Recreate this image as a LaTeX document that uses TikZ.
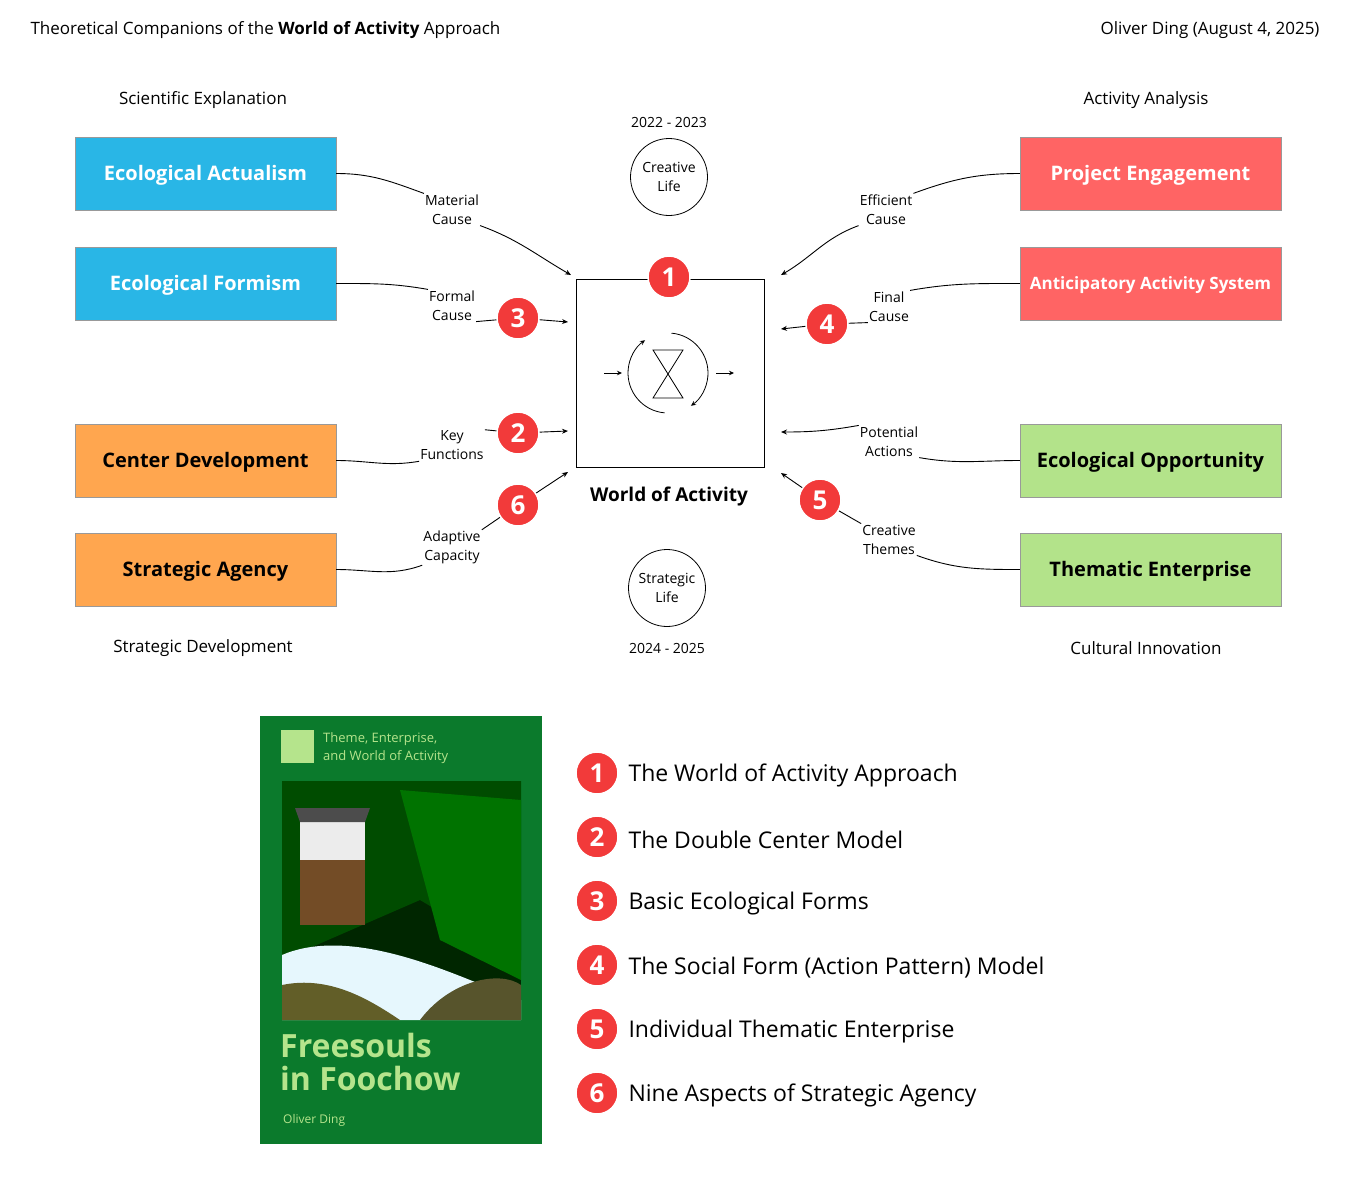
\documentclass[tikz,border=0pt]{standalone}
\usepackage{fontspec}
\setmainfont{Open Sans}
\usetikzlibrary{arrows.meta,calc}
\definecolor{cblue}{HTML}{29B6E6}
\definecolor{cred}{HTML}{FF6464}
\definecolor{corange}{HTML}{FFA64F}
\definecolor{cgreen}{HTML}{B3E38A}
\definecolor{badge}{HTML}{F23A3A}
\definecolor{book}{HTML}{0B7A2C}
\definecolor{booklight}{HTML}{B5E48C}
\begin{document}
\begin{tikzpicture}[x=1pt,y=-1pt,
  box/.style={draw=black!40,minimum width=261pt,minimum height=73pt,inner sep=0pt,
    font=\fontsize{20}{24}\selectfont\bfseries,text depth=1pt},
  lab/.style={font=\fontsize{14}{19}\selectfont,align=center,inner sep=1pt,yshift=-1.5pt},
  head/.style={font=\fontsize{17}{20}\selectfont,yshift=-2pt},
  num/.style={circle,fill=badge,draw=white,line width=1.5pt,minimum size=42pt,inner sep=0pt,
    text=white,font=\fontsize{26}{28}\selectfont\bfseries},
  life/.style={circle,draw,thick,minimum size=77pt,inner sep=0pt,align=center,
    font=\fontsize{14}{19}\selectfont},
  con/.style={black,line width=0.9pt},
  arr/.style={con,-{Stealth[length=6pt,width=5pt]}},
  tip/.style={thick,-{Stealth[length=5pt,width=4.5pt]}},
  item/.style={anchor=west,font=\fontsize{23}{26}\selectfont,yshift=-2.5pt}]
\useasboundingbox[fill=white] (0,0) rectangle (1358,1200);

% header
\node[head,anchor=west] (title) at (27,28) {Theoretical Companions of the \textbf{World of Activity} Approach};
\node[head,anchor=east] (auth) at (1323,28) {Oliver Ding (August 4, 2025)};
\node[head] (h1) at (203,98) {Scientific Explanation};
\node[head] (h2) at (1146,98) {Activity Analysis};
\node[head] (h3) at (203,646) {Strategic Development};
\node[head] (h4) at (1146,646) {Cultural Innovation};
\node[head,font=\fontsize{14}{16}\selectfont] (y1) at (669,120) {2022 - 2023};
\node[head,font=\fontsize{14}{16}\selectfont] (y2) at (667,646) {2024 - 2025};

% boxes
\node[box,fill=cblue,text=white] (ea) at (205.5,173.5) {Ecological Actualism};
\node[box,fill=cblue,text=white] (ef) at (205.5,283.5) {Ecological Formism};
\node[box,fill=corange] (cd) at (205.5,460.5) {Center Development};
\node[box,fill=corange] (sa) at (205.5,569.5) {Strategic Agency};
\node[box,fill=cred,text=white] (pe) at (1150.5,173.5) {Project Engagement};
\node[box,fill=cred,text=white,font=\fontsize{17}{20}\selectfont\bfseries] (aas) at (1150.5,283.5) {Anticipatory Activity System};
\node[box,fill=cgreen] (eo) at (1150.5,460.5) {Ecological Opportunity};
\node[box,fill=cgreen] (te) at (1150.5,569.5) {Thematic Enterprise};

% center
\node[draw,thick,minimum size=188pt,inner sep=0pt] (wa) at (670,373) {};
\node[font=\fontsize{19}{22}\selectfont\bfseries,yshift=-3pt] (wat) at (669,494) {World of Activity};
\node[life] (cl) at (669,177) {Creative\\Life};
\node[life] (sl) at (667,588) {Strategic\\Life};
\coordinate (ic) at (668,373);
\draw[tip] ($(ic)+(95:40)$) arc[start angle=95,end angle=235,radius=40];
\draw[tip] ($(ic)+(-85:40)$) arc[start angle=-85,end angle=55,radius=40];
\draw[thick] (653,350) -- (683,350) -- (653,398) -- (683,398) -- cycle;
\draw[tip] (604,373) -- (622,373);
\draw[tip] (716,373) -- (734,373);

% labels
\node[lab] (mc) at (452,208) {Material\\Cause};
\node[lab] (fc) at (452,304) {Formal\\Cause};
\node[lab] (kf) at (452,444) {Key\\Functions};
\node[lab] (ac) at (452,546) {Adaptive\\Capacity};
\node[lab] (ec) at (886,208) {Efficient\\Cause};
\node[lab] (fn) at (889,305) {Final\\Cause};
\node[lab] (pa) at (889,440) {Potential\\Actions};
\node[lab] (ct) at (889,538) {Creative\\Themes};

% endpoints
\coordinate (t1) at (571,275);
\coordinate (t3) at (568,322);
\coordinate (t2) at (568,431);
\coordinate (t6) at (568,472);
\coordinate (t7) at (781,275);
\coordinate (t4) at (781,329);
\coordinate (t8) at (781,432);
\coordinate (t5) at (781,473);

% connectors left
\draw[con] (ea.east) to[out=0,in=160] (mc.north west);
\draw[arr] (mc.south east) to[out=-20,in=150] (t1);
\draw[con] (ef.east) to[out=0,in=170] (fc.north west);
\draw[con] (fc.south east) -- (518,318);
\draw[con] (cd.east) to[out=0,in=-170] (kf.south west);
\draw[con] (kf.north east) -- (518,433);
\draw[con] (sa.east) to[out=0,in=-160] (ac.south west);
\draw[con] (ac.north east) -- (518,505);
% connectors right
\draw[con] (pe.west) to[out=180,in=20] (ec.north east);
\draw[arr] (ec.south west) to[out=-160,in=30] (t7);
\draw[con] (aas.west) to[out=180,in=10] (fn.north east);
\draw[con] (fn.south west) -- (827,324);
\draw[con] (eo.west) to[out=180,in=-10] (pa.south east);
\draw[arr] (pa.north west) to[out=-170,in=0] (t8);
\draw[con] (te.west) to[out=180,in=-20] (ct.south east);
\draw[con] (ct.north west) -- (820,500);

% badges
\node[num] (n1) at (669,277) {1};
\node[num] (n3) at (518,318) {3};
\node[num] (n2) at (518,433) {2};
\node[num] (n6) at (518,505) {6};
\node[num] (n4) at (827,324) {4};
\node[num] (n5) at (820,500) {5};
\draw[arr] (n3) -- (t3);
\draw[arr] (n2) -- (t2);
\draw[arr] (n6) -- (t6);
\draw[arr] (n4) -- (t4);
\draw[arr] (n5) -- (t5);

% book cover
\fill[book] (260,716) rectangle (542,1144);
\fill[booklight] (281,730) rectangle (314,763);
\node[anchor=north west,align=left,inner sep=0pt,text=booklight,font=\fontsize{13}{18}\selectfont] (bt) at (323,732) {Theme, Enterprise,\\and World of Activity};
\fill[black!85!green] (282,781) rectangle (521,1020);
\fill[green!30!black] (282,781) -- (521,781) -- (521,960) -- (420,900) -- (282,960) -- cycle;
\fill[green!45!black] (400,790) -- (521,800) -- (521,980) -- (440,940) -- cycle;
\fill[white!85!gray] (300,820) rectangle (365,860);
\fill[brown!60!black] (300,860) rectangle (365,925);
\fill[black!70] (295,808) -- (370,808) -- (365,822) -- (300,822) -- cycle;
\fill[white!90!cyan] (282,955) .. controls (340,930) and (420,960) .. (470,980) -- (521,1000) -- (521,1020) -- (282,1020) -- cycle;
\fill[olive!60!black] (282,985) .. controls (330,975) and (370,1000) .. (400,1020) -- (282,1020) -- cycle;
\fill[olive!50!black] (420,1020) .. controls (450,980) and (500,970) .. (521,985) -- (521,1020) -- cycle;
\node[anchor=north west,align=left,inner sep=0pt,text=booklight,font=\fontsize{32}{33}\selectfont\bfseries] (bk) at (280,1033) {Freesouls\\in Foochow};
\node[anchor=west,inner sep=0pt,text=booklight,font=\fontsize{12}{14}\selectfont] (ba) at (283,1120) {Oliver Ding};

% list
\node[num] (l1) at (597,773) {1}; \node[item] (i1) at (625,773) {The World of Activity Approach};
\node[num] (l2) at (597,837) {2}; \node[item] (i2) at (625,837) {The Double Center Model};
\node[num] (l3) at (597,901) {3}; \node[item] (i3) at (625,901) {Basic Ecological Forms};
\node[num] (l4) at (597,965) {4}; \node[item] (i4) at (625,965) {The Social Form (Action Pattern) Model};
\node[num] (l5) at (597,1029) {5}; \node[item] (i5) at (625,1029) {Individual Thematic Enterprise};
\node[num] (l6) at (597,1093) {6}; \node[item] (i6) at (625,1093) {Nine Aspects of Strategic Agency};
\end{tikzpicture}
\end{document}
